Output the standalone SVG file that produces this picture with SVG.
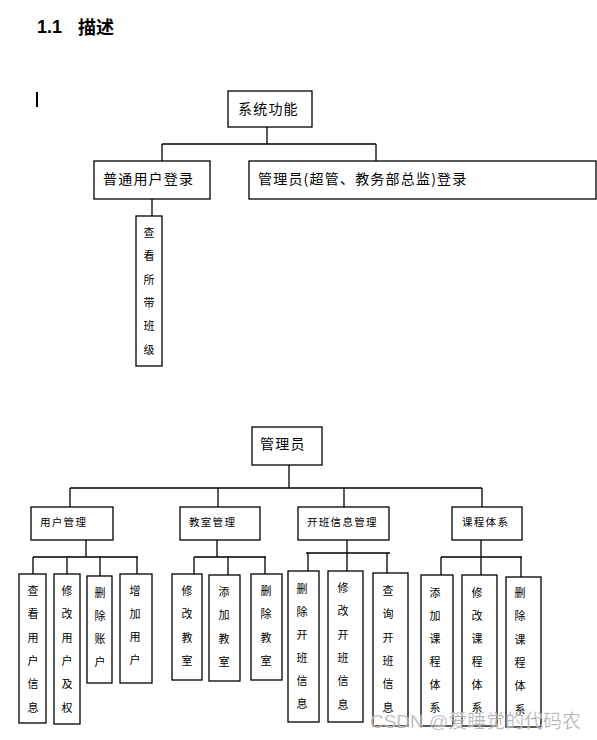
<svg xmlns="http://www.w3.org/2000/svg" width="597" height="740" viewBox="0 0 597 740">
<style>
.b{fill:#fff;stroke:#000;stroke-width:1.3}
.c{fill:none;stroke:#000;stroke-width:1.3}
.t1{font-family:"Noto Sans CJK SC","Noto Sans CJK JP",sans-serif;font-size:14px;letter-spacing:1.2px;fill:#000}
.t2{font-family:"Noto Sans CJK SC","Noto Sans CJK JP",sans-serif;font-size:10.5px;letter-spacing:1.3px;fill:#000}
.v{font-family:"Noto Sans CJK SC","Noto Sans CJK JP",sans-serif;font-size:11px;fill:#000;text-anchor:middle}
</style>
<rect width="597" height="740" fill="#fff"/>
<g id="heading">
<text x="37" y="33" font-family="Liberation Sans,Arial,sans-serif" font-size="18" font-weight="bold">1.1</text>
<text x="78" y="34" font-family="Noto Sans CJK SC,sans-serif" font-size="18" font-weight="bold">描述</text>
<rect x="36" y="92" width="2" height="15" fill="#000"/>
</g>
<g id="connectors">
<path class="c" d="M267 127V144M162 144H376M162 144V161M376 144V161"/>
<path class="c" d="M152 199V216"/>
<path class="c" d="M289 465V488M70 488H482M70 488V507M218 488V507M344 488V507M482 488V507"/>
<path class="c" d="M86 540V557M33 557H138M33 557V574M67 557V574M100 557V576M137 557V574"/>
<path class="c" d="M217 540V557M194 557H266M194 557V574M228 557V575M265 557V574"/>
<path class="c" d="M347 537V553M306 553H390M308 553V571M347 553V571M387 553V573"/>
<path class="c" d="M481 540V557M441 557H522M441 557V575M481 557V575M521 557V577"/>
</g>
<g id="n-root">
<rect class="b" x="228" y="91" width="84" height="36"/>
<text class="t1" x="238" y="114">系统功能</text>
</g>
<g id="n-user-login">
<rect class="b" x="94" y="161" width="116" height="38"/>
<text class="t1" x="103" y="184">普通用户登录</text>
</g>
<g id="n-admin-login">
<rect class="b" x="249" y="161" width="347" height="38"/>
<text class="t1" x="258" y="184">管理员(超管、教务部总监)登录</text>
</g>
<g id="n-view-class">
<rect class="b" x="136" y="216" width="26" height="150"/>
<text class="v"><tspan x="149" y="237">查</tspan><tspan x="149" dy="23.3">看</tspan><tspan x="149" dy="23.3">所</tspan><tspan x="149" dy="23.3">带</tspan><tspan x="149" dy="23.3">班</tspan><tspan x="149" dy="23.3">级</tspan></text>
</g>
<g id="n-admin">
<rect class="b" x="252" y="427" width="70" height="38"/>
<text class="t1" x="260" y="449">管理员</text>
</g>
<g id="n-user-mgmt">
<rect class="b" x="31" y="507" width="82" height="33"/>
<text class="t2" x="40" y="526">用户管理</text>
</g>
<g id="n-room-mgmt">
<rect class="b" x="180" y="507" width="80" height="33"/>
<text class="t2" x="189" y="526">教室管理</text>
</g>
<g id="n-class-mgmt">
<rect class="b" x="298" y="507" width="91" height="33"/>
<text class="t2" x="307" y="526">开班信息管理</text>
</g>
<g id="n-course">
<rect class="b" x="452" y="507" width="70" height="33"/>
<text class="t2" x="462" y="526">课程体系</text>
</g>
<g id="n-u1">
<rect class="b" x="19" y="574" width="27" height="149"/>
<text class="v"><tspan x="33" y="595">查</tspan><tspan x="33" dy="23.3">看</tspan><tspan x="33" dy="23.3">用</tspan><tspan x="33" dy="23.3">户</tspan><tspan x="33" dy="23.3">信</tspan><tspan x="33" dy="23.3">息</tspan></text>
</g>
<g id="n-u2">
<rect class="b" x="54" y="574" width="26" height="150"/>
<text class="v"><tspan x="67" y="595">修</tspan><tspan x="67" dy="23.3">改</tspan><tspan x="67" dy="23.3">用</tspan><tspan x="67" dy="23.3">户</tspan><tspan x="67" dy="23.3">及</tspan><tspan x="67" dy="23.3">权</tspan></text>
</g>
<g id="n-u3">
<rect class="b" x="87" y="576" width="25" height="107"/>
<text class="v"><tspan x="100" y="597">删</tspan><tspan x="100" dy="23">除</tspan><tspan x="100" dy="23">账</tspan><tspan x="100" dy="23">户</tspan></text>
</g>
<g id="n-u4">
<rect class="b" x="120" y="574" width="32" height="109"/>
<text class="v"><tspan x="135" y="595">增</tspan><tspan x="135" dy="23">加</tspan><tspan x="135" dy="23">用</tspan><tspan x="135" dy="23">户</tspan></text>
</g>
<g id="n-r1">
<rect class="b" x="172" y="574" width="30" height="106"/>
<text class="v"><tspan x="187" y="595">修</tspan><tspan x="187" dy="23.3">改</tspan><tspan x="187" dy="23.3">教</tspan><tspan x="187" dy="23.3">室</tspan></text>
</g>
<g id="n-r2">
<rect class="b" x="209" y="575" width="31" height="106"/>
<text class="v"><tspan x="224" y="596">添</tspan><tspan x="224" dy="23.3">加</tspan><tspan x="224" dy="23.3">教</tspan><tspan x="224" dy="23.3">室</tspan></text>
</g>
<g id="n-r3">
<rect class="b" x="251" y="574" width="31" height="106"/>
<text class="v"><tspan x="266" y="595">删</tspan><tspan x="266" dy="23.3">除</tspan><tspan x="266" dy="23.3">教</tspan><tspan x="266" dy="23.3">室</tspan></text>
</g>
<g id="n-c1">
<rect class="b" x="288" y="571" width="31" height="151"/>
<text class="v"><tspan x="302" y="593">删</tspan><tspan x="302" dy="23">除</tspan><tspan x="302" dy="23">开</tspan><tspan x="302" dy="23">班</tspan><tspan x="302" dy="23">信</tspan><tspan x="302" dy="23">息</tspan></text>
</g>
<g id="n-c2">
<rect class="b" x="328" y="571" width="35" height="151"/>
<text class="v"><tspan x="343" y="592">修</tspan><tspan x="343" dy="23.3">改</tspan><tspan x="343" dy="23.3">开</tspan><tspan x="343" dy="23.3">班</tspan><tspan x="343" dy="23.3">信</tspan><tspan x="343" dy="23.3">息</tspan></text>
</g>
<g id="n-c3">
<rect class="b" x="373" y="573" width="35" height="153"/>
<text class="v"><tspan x="388" y="595">查</tspan><tspan x="388" dy="23.3">询</tspan><tspan x="388" dy="23.3">开</tspan><tspan x="388" dy="23.3">班</tspan><tspan x="388" dy="23.3">信</tspan><tspan x="388" dy="23.3">息</tspan></text>
</g>
<g id="n-k1">
<rect class="b" x="421" y="575" width="32" height="151"/>
<text class="v"><tspan x="435" y="597">添</tspan><tspan x="435" dy="23">加</tspan><tspan x="435" dy="23">课</tspan><tspan x="435" dy="23">程</tspan><tspan x="435" dy="23">体</tspan><tspan x="435" dy="23">系</tspan></text>
</g>
<g id="n-k2">
<rect class="b" x="462" y="575" width="35" height="151"/>
<text class="v"><tspan x="477" y="597">修</tspan><tspan x="477" dy="23">改</tspan><tspan x="477" dy="23">课</tspan><tspan x="477" dy="23">程</tspan><tspan x="477" dy="23">体</tspan><tspan x="477" dy="23">系</tspan></text>
</g>
<g id="n-k3">
<rect class="b" x="506" y="577" width="35" height="150"/>
<text class="v"><tspan x="520" y="597">删</tspan><tspan x="520" dy="23.3">除</tspan><tspan x="520" dy="23.3">课</tspan><tspan x="520" dy="23.3">程</tspan><tspan x="520" dy="23.3">体</tspan><tspan x="520" dy="23.3">系</tspan></text>
</g>
<g id="watermark">
<text x="370" y="728" font-family="Liberation Sans,Noto Sans CJK SC,sans-serif" font-size="19" fill="#999" fill-opacity="0.85" stroke="#fff" stroke-width="0.6" stroke-opacity="0.6" textLength="211" lengthAdjust="spacingAndGlyphs">CSDN @爱睡觉的代码农</text>
</g>
</svg>
